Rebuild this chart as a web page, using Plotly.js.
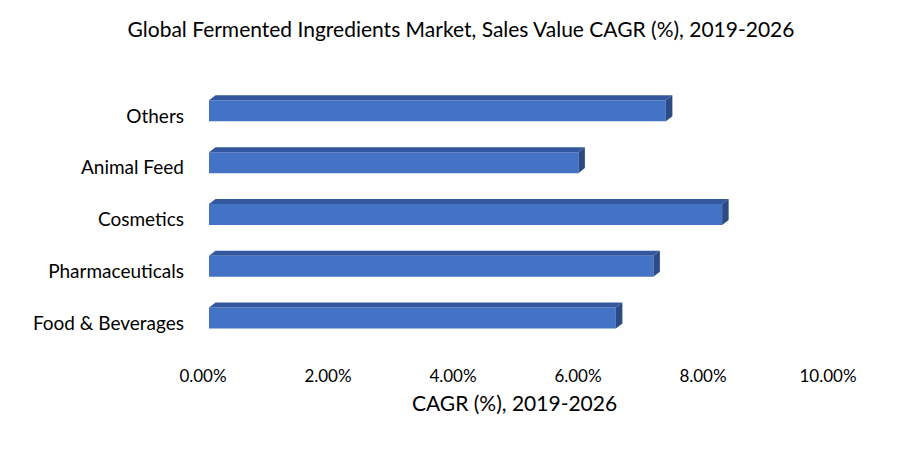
<!DOCTYPE html>
<html>
<head>
<meta charset="utf-8">
<script src="https://cdn.plot.ly/plotly-3.0.1.min.js"></script>
<style>
  html, body { margin: 0; padding: 0; background: #fff; }
  #plot { width: 922px; height: 450px; }
</style>
</head>
<body>
<div id="plot"></div>
<script>
// bottom to top, as drawn
const categories = ["Food & Beverages", "Pharmaceuticals", "Cosmetics", "Animal Feed", "Others"]
const cagr = [6.51, 7.11, 8.21, 5.91, 7.31]
const tickValues = [0, 2, 4, 6, 8, 10]
const tickLabels = ["0.00%", "2.00%", "4.00%", "6.00%", "8.00%", "10.00%"]

const FONT = "Lato, 'Open Sans', sans-serif"
const FRONT = "#4472C4"
const TOP = "#3458A0"
const SIDE = "#2C4B85"

// fake 3d depth, in data units
const barOffset = -0.105
const barWidth = 0.405
const depthX = 0.104
const depthY = 0.097

const positions = categories.map((c, i) => i)

const front = {
  type: "bar",
  orientation: "h",
  x: cagr,
  y: positions,
  offset: barOffset,
  width: barWidth,
  marker: { color: FRONT, line: { width: 0 } },
  hoverinfo: "skip"
}

const faces = []
positions.forEach((p, i) => {
  const v = cagr[i]
  const lo = p + barOffset
  const hi = lo + barWidth
  faces.push({
    type: "scatter", mode: "lines", fill: "toself",
    x: [0, v, v + depthX, depthX, 0],
    y: [hi, hi, hi + depthY, hi + depthY, hi],
    line: { width: 0, color: TOP }, fillcolor: TOP,
    hoverinfo: "skip", showlegend: false
  })
  faces.push({
    type: "scatter", mode: "lines", fill: "toself",
    x: [v, v, v + depthX, v + depthX, v],
    y: [lo, hi, hi + depthY, lo + depthY, lo],
    line: { width: 0, color: SIDE }, fillcolor: SIDE,
    hoverinfo: "skip", showlegend: false
  })
})

const layout = {
  width: 922,
  height: 450,
  margin: { l: 209, r: 88, t: 90, b: 101, pad: 0 },
  paper_bgcolor: "#fff",
  plot_bgcolor: "#fff",
  showlegend: false,
  font: { family: FONT, size: 17, color: "#000" },
  title: {
    text: "Global Fermented Ingredients Market, Sales Value CAGR (%), 2019-2026",
    font: { family: FONT, size: 21, color: "#000" },
    x: 0.5, xanchor: "center",
    y: 0.935, yanchor: "middle"
  },
  xaxis: {
    range: [0, 10],
    tickvals: tickValues,
    ticktext: tickLabels,
    showgrid: false,
    zeroline: false,
    showline: false,
    ticks: "",
    ticklabelshift: -6,
    ticklabelstandoff: 15,
    tickfont: { family: FONT, size: 17, color: "#000" },
    fixedrange: true
  },
  yaxis: {
    range: [-0.5, 4.5],
    tickvals: positions,
    ticktext: categories,
    showgrid: false,
    zeroline: false,
    showline: false,
    ticks: "",
    ticklabelstandoff: 24,
    tickfont: { family: FONT, size: 19, color: "#000" },
    fixedrange: true
  },
  annotations: [{
    text: "CAGR (%), 2019-2026",
    xref: "paper", yref: "paper",
    x: 0.5, y: -0.205,
    xanchor: "center", yanchor: "middle",
    xshift: -7,
    showarrow: false,
    font: { family: FONT, size: 21, color: "#000" }
  }]
}

Plotly.newPlot("plot", [front].concat(faces), layout, { displayModeBar: false, staticPlot: true })
</script>
</body>
</html>
